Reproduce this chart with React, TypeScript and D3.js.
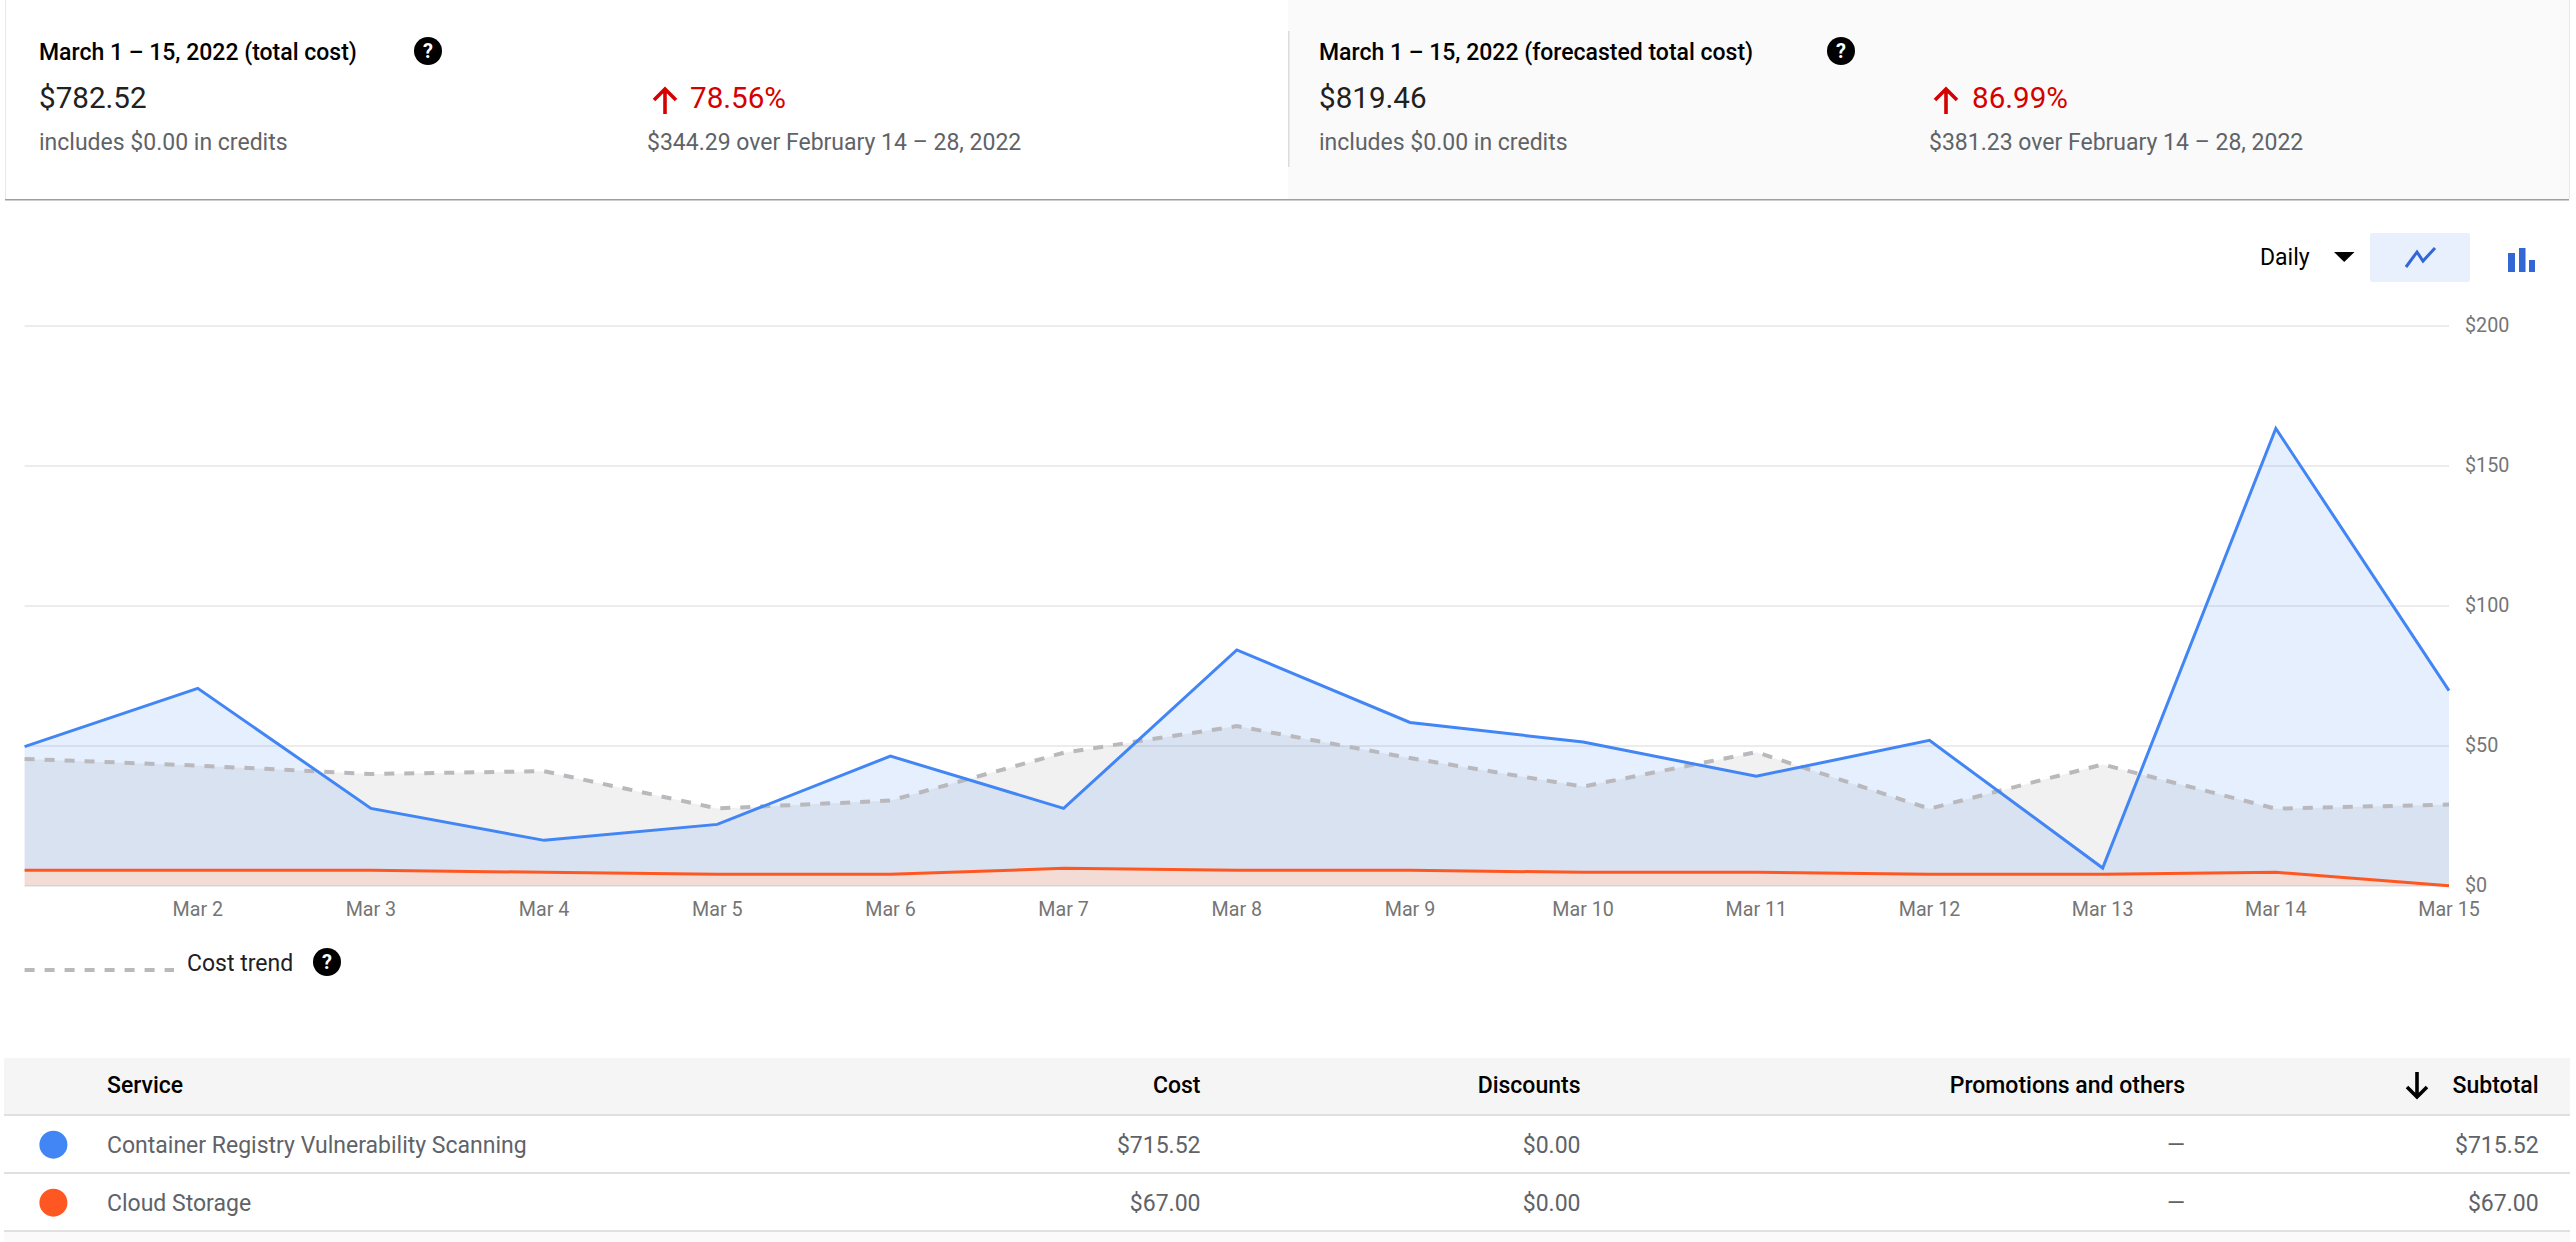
import React from 'react';
import * as d3 from 'd3';

const days = ['Mar 1', 'Mar 2', 'Mar 3', 'Mar 4', 'Mar 5', 'Mar 6', 'Mar 7', 'Mar 8', 'Mar 9', 'Mar 10', 'Mar 11', 'Mar 12', 'Mar 13', 'Mar 14', 'Mar 15'];
const scanning = [44.2, 65, 22.1, 11.4, 17.8, 42.2, 21.4, 78.7, 52.8, 46.5, 34.3, 47.8, 2.2, 158.5, 69.7];
const storage = [5.6, 5.6, 5.6, 4.9, 4.2, 4.2, 6.3, 5.6, 5.6, 4.9, 4.9, 4.2, 4.2, 4.9, 0.1];
const trend = [45.4, 43, 40, 41, 27.7, 30.5, 47.6, 57.1, 45.7, 35.5, 47.8, 27.6, 43.4, 27.6, 29.1];
const yTicks = [0, 50, 100, 150, 200];

const services = ['Container Registry Vulnerability Scanning', 'Cloud Storage'];
const costs = ['$715.52', '$67.00'];
const discounts = ['$0.00', '$0.00'];
const promotions = ['—', '—'];
const subtotals = ['$715.52', '$67.00'];

const BLUE = '#4285f4';
const ORANGE = '#ff5722';
const GREY_TEXT = '#5f6368';
const FONT = 'Roboto, sans-serif';

const x = d3.scalePoint<string>().domain(days).range([24.6, 2449]);
const y = d3.scaleLinear().domain([0, 200]).range([886, 326]);

const rows = days.map((day, i) => ({ day, storage: storage[i], scanning: scanning[i], trend: trend[i] }));
const [storageBand, scanningBand] = d3.stack<any>().keys(['storage', 'scanning'])(rows);

const bandArea = d3.area<any>()
    .x(d => x(d.data.day)!)
    .y0(d => y(d[0]))
    .y1(d => y(d[1]));
const bandLine = d3.line<any>()
    .x(d => x(d.data.day)!)
    .y(d => y(d[1]));
const trendArea = d3.area<any>()
    .x(d => x(d.day)!)
    .y0(y(0))
    .y1(d => y(d.trend));
const trendLine = d3.line<any>()
    .x(d => x(d.day)!)
    .y(d => y(d.trend));

const Help = ({ cx, cy }: { cx: number; cy: number }) => (
    <g>
        <circle cx={cx} cy={cy} r={14} fill="#000" />
        <text x={cx} y={cy + 7} textAnchor="middle" fontSize={20} fontWeight={700} fill="#fff">?</text>
    </g>
);

// vertical arrow, tip at y1
const Arrow = ({ cx, y1, y2, color, w = 11 }: { cx: number; y1: number; y2: number; color: string; w?: number }) => {
    const dir = y2 > y1 ? 1 : -1;
    return (
        <path
            d={`M${cx},${y2}L${cx},${y1}M${cx - w},${y1 + dir * w}L${cx},${y1}L${cx + w},${y1 + dir * w}`}
            fill="none"
            stroke={color}
            strokeWidth={3.6}
        />
    );
};

const Summary = ({ left, title, total, pct, prev, helpX, arrowX, pctX, prevX }: any) => (
    <g>
        <text x={left} y={60} fontSize={23} fontWeight={500} fill="#000">{title}</text>
        <Help cx={helpX} cy={51} />
        <text x={left} y={108} fontSize={29.6} fill="#212121">{total}</text>
        <text x={left} y={150} fontSize={23} fill={GREY_TEXT}>includes $0.00 in credits</text>
        <Arrow cx={arrowX} y1={89} y2={114} color="#d50000" />
        <text x={pctX} y={108} fontSize={29.6} fill="#d50000">{pct}</text>
        <text x={prevX} y={150} fontSize={23} fill={GREY_TEXT}>{prev}</text>
    </g>
);

const colRight = [1200.5, 1580.5, 2185, 2538.6];
const rowBaseline = [1152.7, 1210.7];
const rowDot = [1144.7, 1202.7];
const dotColors = [BLUE, ORANGE];

export default function App() {
    return (
        <svg
            width={2576}
            height={1242}
            fontFamily={FONT}
            style={{ position: 'absolute', left: 0, top: 0, display: 'block', background: '#fff' }}
        >
            {/* summary panels */}
            <rect x={1288} y={0} width={1281} height={199} fill="#fafafa" />
            <rect x={5} y={199} width={2564} height={1.5} fill="#9e9e9e" />
            <rect x={5} y={0} width={1} height={199} fill="#e8e8e8" />
            <rect x={2569} y={0} width={1} height={199} fill="#e8e8e8" />
            <rect x={1288} y={31} width={1.5} height={136} fill="#dadce0" />
            <Summary
                left={39}
                title="March 1 – 15, 2022 (total cost)"
                total="$782.52"
                pct="78.56%"
                prev="$344.29 over February 14 – 28, 2022"
                helpX={428}
                arrowX={665}
                pctX={690}
                prevX={647}
            />
            <Summary
                left={1319}
                title="March 1 – 15, 2022 (forecasted total cost)"
                total="$819.46"
                pct="86.99%"
                prev="$381.23 over February 14 – 28, 2022"
                helpX={1841}
                arrowX={1946}
                pctX={1972}
                prevX={1929}
            />

            {/* toolbar */}
            <text x={2260} y={265} fontSize={23} fill="#000">Daily</text>
            <path d="M2334,252L2354.5,252L2344.2,262Z" fill="#000" />
            <rect x={2370} y={233} width={100} height={49} rx={2} fill="#e8f0fe" />
            <path d="M2406,267L2417,252L2423,261L2435,248" fill="none" stroke="#3367d6" strokeWidth={3} />
            <rect x={2508} y={253} width={7} height={19} fill="#3367d6" />
            <rect x={2519} y={248} width={6.5} height={24} fill="#3367d6" />
            <rect x={2529} y={260} width={6} height={12} fill="#3367d6" />

            {/* grid and y axis */}
            {yTicks.map(t => (
                <g key={t}>
                    <line x1={24.6} x2={2449} y1={y(t)} y2={y(t)} stroke="#ececec" strokeWidth={2} />
                    <text x={2465} y={y(t) + 6} fontSize={19.7} fill="#757575">{`$${t}`}</text>
                </g>
            ))}

            {/* areas */}
            <path d={trendArea(rows)!} fill="#000" fillOpacity={0.055} />
            <path d={bandArea(scanningBand as any)!} fill={BLUE} fillOpacity={0.135} />
            <path d={bandArea(storageBand as any)!} fill={ORANGE} fillOpacity={0.13} />

            {/* lines */}
            <path d={trendLine(rows)!} fill="none" stroke="#b9b9bd" strokeWidth={4} strokeDasharray="10 10" />
            <path d={bandLine(scanningBand as any)!} fill="none" stroke={BLUE} strokeWidth={3} />
            <path d={bandLine(storageBand as any)!} fill="none" stroke={ORANGE} strokeWidth={3} />

            {/* x axis */}
            {days.slice(1).map(d => (
                <text key={d} x={x(d)} y={916} textAnchor="middle" fontSize={19.7} fill="#757575">{d}</text>
            ))}

            {/* legend */}
            <line x1={24.6} x2={174} y1={970} y2={970} stroke="#b9b9bd" strokeWidth={4} strokeDasharray="10 10" />
            <text x={187} y={971} fontSize={23} fill="#202124">Cost trend</text>
            <Help cx={327} cy={962} />

            {/* table */}
            <rect x={4} y={1058} width={2566} height={56} fill="#f5f5f5" />
            <rect x={4} y={1114} width={2566} height={2} fill="#e0e0e0" />
            <rect x={4} y={1172} width={2566} height={2} fill="#e0e0e0" />
            <rect x={4} y={1230} width={2566} height={2} fill="#e0e0e0" />
            <rect x={4} y={1232} width={2566} height={10} fill="#fafafa" />
            <g fontSize={23} fontWeight={500} fill="#000">
                <text x={107} y={1093}>Service</text>
                <text x={colRight[0]} y={1093} textAnchor="end">Cost</text>
                <text x={colRight[1]} y={1093} textAnchor="end">Discounts</text>
                <text x={colRight[2]} y={1093} textAnchor="end">Promotions and others</text>
                <text x={colRight[3]} y={1093} textAnchor="end">Subtotal</text>
            </g>
            <Arrow cx={2417} y1={1097} y2={1072} color="#000" w={10} />
            {services.map((s, i) => (
                <g key={s} fontSize={23} fill={GREY_TEXT}>
                    <circle cx={53.4} cy={rowDot[i]} r={14} fill={dotColors[i]} />
                    <text x={107} y={rowBaseline[i]}>{s}</text>
                    <text x={colRight[0]} y={rowBaseline[i]} textAnchor="end">{costs[i]}</text>
                    <text x={colRight[1]} y={rowBaseline[i]} textAnchor="end">{discounts[i]}</text>
                    <text x={colRight[2]} y={rowBaseline[i]} textAnchor="end">{promotions[i]}</text>
                    <text x={colRight[3]} y={rowBaseline[i]} textAnchor="end">{subtotals[i]}</text>
                </g>
            ))}
        </svg>
    );
}
